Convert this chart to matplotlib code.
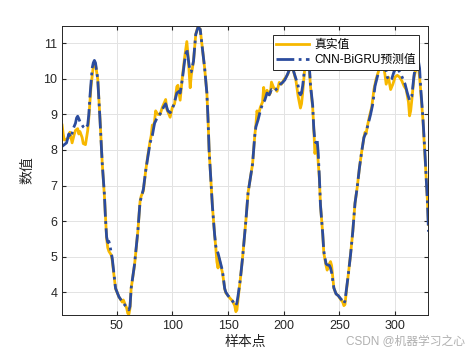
import numpy as np
import matplotlib
matplotlib.use("Agg")
import matplotlib.pyplot as plt

plt.rcParams['font.family'] = ['Liberation Sans', 'Noto Sans CJK SC', 'DejaVu Sans']

# true values (sample index, value)
true_x = [1, 2, 3, 5, 7, 8, 10, 12, 13, 15, 16, 17, 19, 20, 22, 24, 25, 27, 29, 30,
          31, 33, 35, 37, 39, 40, 41, 42, 43, 45, 46, 48, 49, 52, 55, 56, 57, 58, 59, 60,
          61, 62, 63, 66, 69, 71, 72, 74, 76, 78, 80, 81, 82, 83, 84, 85, 87, 89, 91, 94,
          95, 97, 98, 100, 102, 104, 105, 107, 109, 111, 113, 114, 116, 117, 119, 121, 123, 125, 127, 129,
          131, 132, 133, 134, 136, 138, 139, 140, 141, 142, 143, 145, 147, 148, 150, 152, 154, 156, 157, 158,
          159, 161, 163, 164, 166, 167, 168, 169, 170, 172, 174, 175, 176, 177, 179, 181, 182, 183, 185, 187,
          188, 189, 191, 193, 194, 196, 198, 200, 202, 204, 206, 207, 209, 211, 213, 215, 216, 217, 219, 220,
          221, 222, 223, 224, 226, 227, 228, 229, 230, 232, 233, 235, 236, 238, 239, 241, 242, 243, 245, 247,
          249, 251, 253, 254, 255, 256, 258, 260, 262, 264, 266, 268, 270, 272, 273, 274, 275, 277, 279, 281,
          283, 285, 287, 289, 290, 291, 292, 294, 296, 298, 300, 302, 304, 306, 308, 310, 312, 313, 314, 315,
          317, 319, 321, 322, 323, 325, 327, 329, 330]
true_y = [8.70, 8.45, 8.28, 8.30, 8.35, 8.50, 8.20, 8.45, 8.55, 8.60, 8.45, 8.52, 8.35, 8.18, 8.15, 8.55, 8.90, 9.80, 10.35, 10.45,
          10.40, 10.00, 8.90, 7.65, 6.70, 6.10, 5.50, 5.25, 5.15, 5.05, 4.90, 4.35, 4.10, 3.87, 3.72, 3.78, 3.70, 3.62, 3.55, 3.40,
          3.38, 3.55, 4.10, 4.75, 5.70, 6.55, 6.70, 6.85, 7.40, 7.85, 8.25, 8.40, 8.70, 8.65, 8.80, 9.10, 9.00, 9.00, 9.20, 9.42,
          9.15, 9.00, 8.92, 9.20, 9.30, 9.78, 9.82, 9.40, 10.05, 10.60, 11.05, 10.70, 9.75, 10.10, 10.50, 11.25, 11.47, 11.40, 10.85, 10.30,
          9.60, 8.90, 8.00, 7.45, 6.40, 5.60, 5.25, 4.85, 4.68, 4.95, 4.80, 4.55, 4.10, 3.98, 3.90, 3.82, 3.75, 3.62, 3.45, 3.50,
          3.80, 4.35, 4.95, 5.30, 6.00, 6.40, 6.80, 7.00, 7.20, 7.60, 8.40, 8.70, 9.10, 8.95, 9.20, 9.35, 9.76, 9.50, 9.68, 9.55,
          9.60, 9.91, 9.75, 9.70, 9.65, 9.90, 9.85, 9.97, 10.05, 10.15, 10.40, 10.50, 10.20, 9.95, 9.50, 9.18, 9.30, 9.60, 10.35, 10.70,
          10.80, 10.60, 10.30, 9.80, 9.20, 8.60, 7.90, 8.10, 8.08, 7.20, 6.45, 5.65, 5.10, 4.75, 4.62, 4.80, 4.86, 4.75, 4.12, 3.95,
          3.90, 3.80, 3.72, 3.62, 3.65, 3.95, 4.50, 5.05, 5.70, 6.50, 6.95, 7.50, 7.95, 8.35, 8.50, 8.45, 8.65, 8.95, 9.20, 9.70,
          10.00, 10.20, 10.45, 10.50, 10.30, 10.10, 9.85, 10.05, 9.70, 9.85, 10.05, 10.10, 10.05, 9.95, 9.80, 9.70, 9.35, 8.96, 9.10, 9.40,
          10.05, 10.30, 10.35, 10.05, 9.65, 8.85, 7.75, 6.60, 5.90]

# CNN-BiGRU predictions (sample index, value)
pred_x = [1, 3, 5, 7, 8, 9, 11, 13, 14, 15, 16, 17, 19, 20, 22, 24, 25, 26, 28, 29,
          30, 31, 33, 35, 37, 39, 40, 41, 42, 43, 44, 46, 48, 49, 52, 55, 57, 59, 61, 62,
          63, 66, 69, 71, 72, 74, 76, 78, 80, 82, 84, 86, 88, 90, 92, 94, 96, 98, 100, 102,
          104, 106, 107, 109, 111, 113, 115, 116, 117, 119, 121, 123, 125, 127, 129, 131, 132, 133, 134, 136,
          138, 139, 140, 141, 143, 145, 147, 148, 150, 152, 154, 156, 157, 158, 159, 161, 163, 164, 166, 167,
          168, 169, 170, 172, 174, 175, 177, 179, 181, 183, 185, 187, 189, 191, 193, 195, 197, 199, 201, 203,
          205, 207, 209, 211, 213, 214, 215, 216, 217, 219, 220, 221, 222, 223, 224, 226, 227, 228, 229, 230,
          231, 232, 233, 235, 236, 238, 239, 241, 242, 243, 245, 247, 249, 251, 253, 254, 255, 256, 258, 260,
          262, 264, 266, 268, 270, 272, 274, 276, 278, 280, 282, 284, 286, 288, 289, 291, 293, 295, 297, 299,
          301, 303, 305, 307, 309, 311, 313, 315, 317, 319, 321, 322, 323, 325, 327, 329, 330]
pred_y = [8.10, 8.15, 8.20, 8.45, 8.40, 8.35, 8.60, 8.75, 8.90, 8.95, 8.88, 8.80, 8.70, 8.65, 8.60, 8.70, 9.00, 9.50, 10.30, 10.45,
          10.52, 10.45, 10.00, 8.87, 7.64, 6.75, 6.04, 5.55, 5.40, 5.43, 5.30, 4.96, 4.40, 4.11, 3.87, 3.73, 3.65, 3.58, 3.50, 3.60,
          4.11, 4.77, 5.71, 6.55, 6.65, 6.90, 7.40, 7.80, 8.20, 8.40, 8.75, 8.88, 8.98, 9.05, 9.20, 9.30, 9.10, 9.05, 9.15, 9.35,
          9.60, 9.65, 9.60, 10.00, 10.50, 10.85, 10.40, 10.20, 10.20, 10.50, 11.25, 11.45, 11.40, 10.85, 10.30, 9.60, 8.90, 8.00, 7.45, 6.40,
          5.60, 5.30, 5.15, 5.10, 4.85, 4.60, 4.10, 4.00, 3.90, 3.83, 3.75, 3.66, 3.62, 3.70, 3.90, 4.35, 4.95, 5.30, 6.00, 6.40,
          6.80, 7.00, 7.20, 7.60, 8.40, 8.65, 8.85, 9.10, 9.30, 9.40, 9.60, 9.55, 9.70, 9.65, 9.70, 9.75, 9.85, 9.90, 9.97, 10.10,
          10.25, 10.50, 10.20, 10.00, 9.80, 9.60, 9.55, 9.60, 9.80, 10.35, 10.70, 10.80, 10.65, 10.35, 9.85, 9.25, 8.60, 8.25, 8.20, 8.30,
          7.90, 7.25, 6.45, 5.65, 5.15, 4.80, 4.77, 4.75, 4.68, 4.55, 4.12, 3.95, 3.90, 3.82, 3.75, 3.68, 3.75, 4.00, 4.50, 5.05,
          5.70, 6.50, 6.95, 7.50, 7.95, 8.35, 8.50, 8.75, 9.00, 9.30, 9.80, 10.05, 10.30, 10.50, 10.55, 10.35, 10.05, 9.95, 10.00, 10.20,
          10.30, 10.25, 10.15, 10.00, 9.85, 9.60, 9.40, 9.50, 10.10, 10.45, 10.50, 10.30, 9.75, 8.90, 7.80, 6.55, 5.70]

x_ticks = [50, 100, 150, 200, 250, 300]
y_ticks = [4, 5, 6, 7, 8, 9, 10, 11]

fig = plt.figure(figsize=(4.74, 3.55), dpi=100)
ax = fig.add_axes([0.131, 0.113, 0.773, 0.814])

ax.plot(true_x, true_y, color='#F7B800', linewidth=2.0, label='真实值')
ax.plot(pred_x, pred_y, color='#2B4C9E', linewidth=2.0, linestyle='-.', label='CNN-BiGRU预测值')

ax.set_xlim(1, 330)
ax.set_ylim(3.36, 11.49)
ax.set_xticks(x_ticks)
ax.set_yticks(y_ticks)
ax.grid(True, color='#E3E3E3', linewidth=0.7)
ax.set_axisbelow(True)
ax.tick_params(direction='in', length=3, labelsize=9, colors='#262626', top=True, right=True,
               labeltop=False, labelright=False)
for s in ax.spines.values():
    s.set_color('#262626')
    s.set_linewidth(0.7)

ax.set_xlabel('样本点', fontsize=10, family=['Noto Sans CJK SC'], color='#262626', labelpad=2)
ax.set_ylabel('数值', fontsize=10, family=['Noto Sans CJK SC'], color='#262626', labelpad=6)

leg = ax.legend(loc='upper right', fontsize=8.5, fancybox=False, framealpha=1,
                edgecolor='#262626', borderaxespad=0.8, handlelength=2.8,
                borderpad=0.3, labelspacing=0.3, handletextpad=0.4)
leg.get_frame().set_linewidth(0.7)

fig.text(0.982, 0.028, 'CSDN @机器学习之心', fontsize=8.5, color='#B0B0B0', ha='right')

fig.savefig('out.png', dpi=100)
